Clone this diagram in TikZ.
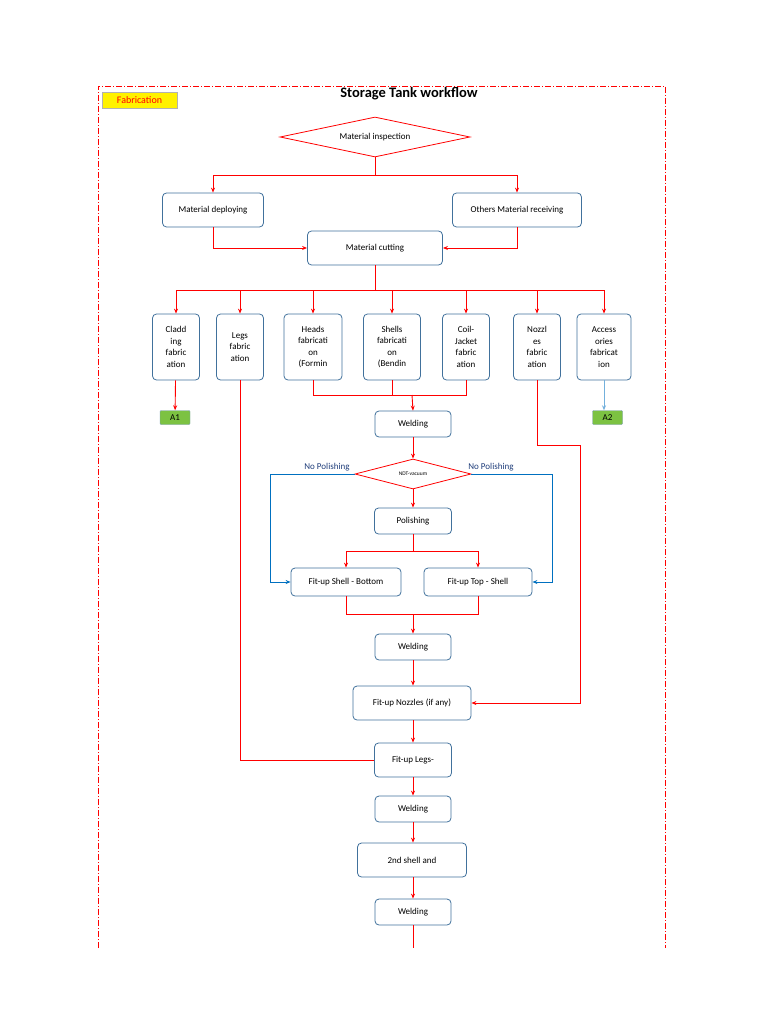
\documentclass[tikz,border=0pt]{standalone}
\usepackage{fontspec}
\setmainfont{Carlito}
\usetikzlibrary{shapes.geometric,arrows.meta}
\definecolor{bx}{HTML}{41719C}
\definecolor{rd}{HTML}{FF0000}
\definecolor{bl}{HTML}{0070C0}
\definecolor{nv}{HTML}{1F3D7A}
\definecolor{gr}{HTML}{7CC242}
\begin{document}
\begin{tikzpicture}[x=1pt,y=-1pt,
 box/.style={draw=bx,line width=0.8pt,rounded corners=4pt,fill=white,font=\fontsize{9}{11.5}\selectfont,align=center,inner sep=1pt},
 dia/.style={diamond,aspect=4.75,draw=rd,line width=0.8pt,fill=white,inner sep=0pt},
 ra/.style={draw=rd,line width=0.9pt,-{Stealth[length=5pt,width=4pt]}},
 rl/.style={draw=rd,line width=0.9pt},
 ba/.style={draw=bl,line width=0.9pt,-{Stealth[length=5pt,width=4pt]}},
 tag/.style={draw=bx!70,fill=gr,font=\fontsize{9}{10}\selectfont,minimum width=30pt,minimum height=14pt,inner sep=0pt,rounded corners=1pt}]
\useasboundingbox (0,0) rectangle (768,1024);
\draw[rd,line width=0.7pt,dash pattern=on 6pt off 2pt on 1pt off 2pt] (98,948) -- (98,86) -- (665,86) -- (665,948);
\node[fill=yellow,draw=black!30,minimum width=75pt,minimum height=16pt,inner sep=0pt,text=rd,font=\fontsize{10}{11}\selectfont] (fab) at (139.5,100) {Fabrication};
\node[font=\bfseries\fontsize{14.5}{16}\selectfont] (title) at (409,94) {Storage Tank workflow};
\node[dia,minimum width=190pt,minimum height=40pt,font=\fontsize{9}{11}\selectfont] (insp) at (375,137) {Material inspection};
\node[box,minimum width=101pt,minimum height=34pt] (dep) at (213,210) {Material deploying};
\node[box,minimum width=129pt,minimum height=34pt] (rec) at (517,210) {Others Material receiving};
\node[box,minimum width=135pt,minimum height=34pt] (cut) at (375,248) {Material cutting};
\foreach \n/\x/\w/\t in {clad/176/47/{Cladd\\ing\\fabric\\ation}, legs/240/47/{Legs\\fabric\\ation}, heads/313/58/{Heads\\fabricati\\on\\(Formin}, shells/392/57/{Shells\\fabricati\\on\\(Bendin}, coil/466/47/{Coil-\\Jacket\\fabric\\ation}, noz/537/47/{Nozzl\\es\\fabric\\ation}, acc/604/54/{Access\\ories\\fabricat\\ion}}
  \node[box,minimum width=\w pt,minimum height=66pt] (\n) at (\x,347) {\t};
\node[tag] (a1) at (175,417.5) {A1};
\node[tag] (a2) at (607.5,417.5) {A2};
\node[box,minimum width=76pt,minimum height=26pt] (w1) at (413,424) {Welding};
\node[dia,minimum width=116pt,minimum height=30pt,font=\fontsize{5.5}{6}\selectfont] (ndt) at (413,474) {NDT-vacuum};
\node[box,minimum width=77pt,minimum height=26pt] (pol) at (413,521) {Polishing};
\node[box,minimum width=110pt,minimum height=28pt] (fsb) at (346,582) {Fit-up Shell - Bottom};
\node[box,minimum width=108pt,minimum height=28pt] (fts) at (478,582) {Fit-up Top - Shell};
\node[box,minimum width=76pt,minimum height=26pt] (w2) at (413,647) {Welding};
\node[box,minimum width=118pt,minimum height=34pt] (fn) at (412,703) {Fit-up Nozzles (if any)};
\node[box,minimum width=77pt,minimum height=34pt] (fl) at (413,760) {Fit-up Legs-};
\node[box,minimum width=76pt,minimum height=26pt] (w3) at (413,809) {Welding};
\node[box,minimum width=109pt,minimum height=34pt] (s2) at (412,860) {2nd shell and};
\node[box,minimum width=76pt,minimum height=26pt] (w4) at (413,912) {Welding};
\coordinate (end) at (413,948);
\draw[ra] (insp.south) -- (375,175) -| (dep.north);
\draw[ra] (insp.south) -- (375,175) -| (rec.north);
\draw[ra] (dep.south) |- (cut.west);
\draw[ra] (rec.south) |- (cut.east);
\foreach \n in {clad,legs,heads,shells,coil,noz,acc}
  \draw[ra] (cut.south) -- (375,290) -| (\n.north);
\draw[ra] (clad) -- (a1);
\draw[draw=bl!55,line width=0.9pt,-{Stealth[length=5pt,width=4pt]}] (acc.south) -- (a2.north -| acc.south);
\draw[rl] (heads.south) |- (412,395);
\draw[rl] (coil.south) |- (412,395);
\draw[rl] (shells.south) -- (392,395);
\draw[ra] (412,395) -- (w1.north);
\draw[ra] (w1) -- (ndt);
\draw[ra] (ndt) -- (pol);
\draw[ba] (ndt.west) -- (270,474) |- (fsb.west);
\draw[ba] (ndt.east) -- (552,474) |- (fts.east);
\node[text=nv,font=\fontsize{9}{10}\selectfont] (np1) at (327,467) {No Polishing};
\node[text=nv,font=\fontsize{9}{10}\selectfont] (np2) at (491,467) {No Polishing};
\draw[ra] (pol.south) -- (413,551) -| (fsb.north);
\draw[ra] (pol.south) -- (413,551) -| (fts.north);
\draw[rl] (fsb.south) |- (413,614);
\draw[rl] (fts.south) |- (413,614);
\draw[ra] (413,614) -- (w2.north);
\draw[ra] (w2) -- (fn.north -| w2.south);
\draw[ra] (noz.south) -- (537,445) -- (580,445) |- (fn.east);
\draw[ra] (fn.south -| fl.north) -- (fl.north);
\draw[rl] (legs.south) |- (fl.west);
\draw[ra] (fl) -- (w3);
\draw[ra] (w3) -- (s2.north -| w3.south);
\draw[ra] (s2.south -| w4.north) -- (w4.north);
\draw[rl] (w4) -- (end);
\end{tikzpicture}
\end{document}
